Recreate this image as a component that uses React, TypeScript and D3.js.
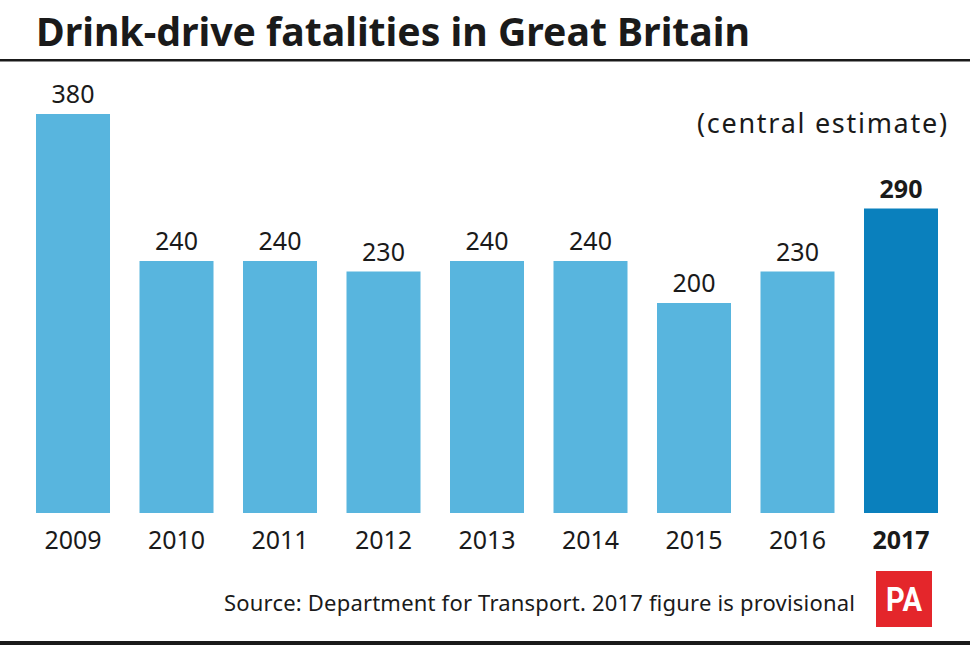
// App.tsx
import React, { useRef, useEffect } from 'react';
import * as d3 from 'd3';

const years = ['2009', '2010', '2011', '2012', '2013', '2014', '2015', '2016', '2017'];
const fatalities = [380, 240, 240, 230, 240, 240, 200, 230, 290];
const provisionalYear = '2017';

const title = 'Drink-drive fatalities in Great Britain';
const note = '(central estimate)';
const source = 'Source: Department for Transport. 2017 figure is provisional';

const App = () => {
  const chartRef = useRef<HTMLDivElement>(null);

  useEffect(() => {
    drawChart();
  }, []);

  const drawChart = () => {
    const width = 970;
    const height = 645;
    const font = "'Noto Sans', 'Open Sans', sans-serif";
    const ink = '#1a1a1a';

    d3.select(chartRef.current).selectAll('*').remove();

    const svg = d3
      .select(chartRef.current)
      .append('svg')
      .attr('width', width)
      .attr('height', height)
      .style('display', 'block')
      .style('font-family', font);

    svg.append('rect').attr('width', width).attr('height', height).attr('fill', '#fff');

    // title + rules
    svg
      .append('text')
      .attr('x', 36)
      .attr('y', 46)
      .attr('fill', ink)
      .style('font-size', '39px')
      .style('font-weight', 700)
      .attr('textLength', 714)
      .attr('lengthAdjust', 'spacingAndGlyphs')
      .text(title);

    svg.append('rect').attr('x', 0).attr('y', 59).attr('width', width).attr('height', 2.5).attr('fill', ink);
    svg.append('rect').attr('x', 0).attr('y', 641).attr('width', width).attr('height', 4).attr('fill', ink);

    const x = d3.scaleBand().domain(years).range([36, 938]).paddingInner(0.285).paddingOuter(0);
    const y = d3.scaleLinear().domain([0, 380]).range([513, 114]);

    const bars = svg.selectAll('g.bar').data(years).enter().append('g').attr('class', 'bar');

    bars
      .append('rect')
      .attr('x', (d) => x(d)!)
      .attr('y', (d, i) => y(fatalities[i]))
      .attr('width', x.bandwidth())
      .attr('height', (d, i) => y(0) - y(fatalities[i]))
      .attr('fill', (d) => (d === provisionalYear ? '#0a80bd' : '#58b5de'));

    bars
      .append('text')
      .attr('x', (d) => x(d)! + x.bandwidth() / 2)
      .attr('y', (d, i) => y(fatalities[i]) - 11)
      .attr('text-anchor', 'middle')
      .attr('fill', ink)
      .style('font-size', '25px')
      .style('font-weight', (d) => (d === provisionalYear ? 700 : 400))
      .text((d, i) => fatalities[i]);

    // year labels
    bars
      .append('text')
      .attr('x', (d) => x(d)! + x.bandwidth() / 2)
      .attr('y', 549)
      .attr('text-anchor', 'middle')
      .attr('fill', ink)
      .style('font-size', '25px')
      .style('font-weight', (d) => (d === provisionalYear ? 700 : 400))
      .text((d) => d);

    svg
      .append('text')
      .attr('x', 697)
      .attr('y', 133)
      .attr('fill', ink)
      .style('font-size', '27px')
      .attr('textLength', 250)
      .attr('lengthAdjust', 'spacing')
      .text(note);

    svg
      .append('text')
      .attr('x', 224)
      .attr('y', 611)
      .attr('fill', ink)
      .style('font-size', '22px')
      .attr('textLength', 631)
      .attr('lengthAdjust', 'spacing')
      .text(source);

    // PA logo
    svg.append('rect').attr('x', 876).attr('y', 571).attr('width', 56).attr('height', 56).attr('fill', '#e4262b');
    svg
      .append('text')
      .attr('x', 904)
      .attr('y', 611)
      .attr('text-anchor', 'middle')
      .attr('fill', '#fff')
      .style('font-family', "'Roboto', sans-serif")
      .style('font-size', '34px')
      .style('font-weight', 700)
      .attr('textLength', 36)
      .attr('lengthAdjust', 'spacingAndGlyphs')
      .text('PA');
  };

  return <div ref={chartRef} style={{ position: 'absolute', left: 0, top: 0 }}></div>;
};

export default App;
